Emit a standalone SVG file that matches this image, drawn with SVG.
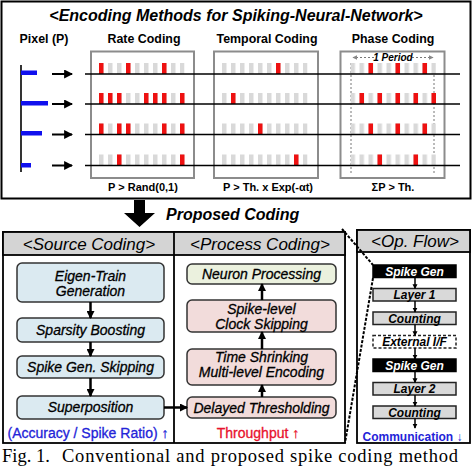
<svg xmlns="http://www.w3.org/2000/svg" width="474" height="468" viewBox="0 0 474 468">
<defs>
<style>
text{font-family:"Liberation Sans",Arial,sans-serif;fill:#000}
.t{font-weight:bold;font-style:italic;font-size:16px}
.h{font-weight:bold;font-size:12.4px;text-anchor:middle}
.f{font-weight:bold;font-size:11px;text-anchor:middle}
.sec{font-style:italic;font-size:17px;text-anchor:middle}
.bx{font-style:italic;font-size:14px;text-anchor:middle;stroke:#000;stroke-width:.3}
.ob{font-weight:bold;font-style:italic;font-size:12px;text-anchor:middle}
.lbl{font-size:14px;text-anchor:middle;stroke-width:.3}
.cbox{fill:none;stroke:#8c8c8c;stroke-width:2}
.row{stroke:#000;stroke-width:1.6}
.r{fill:#ee1111}
.px{fill:#1010ee}
.src{fill:#dbeaf1;stroke:#333;stroke-width:1.5}
.prc{fill:#f2dcdb;stroke:#333;stroke-width:1.5}
.neu{fill:#ebf1de;stroke:#333;stroke-width:1.5}
.op{fill:#d9d9d9;stroke:#222;stroke-width:1.5}
.opk{fill:#000;stroke:#000;stroke-width:1.5}
.opd{fill:#fff;stroke:#222;stroke-width:1.5;stroke-dasharray:3 2}
.a1{stroke:#000;stroke-width:2;fill:none;marker-end:url(#ah)}
.a2{stroke:#000;stroke-width:2.5;fill:none;marker-end:url(#ah2)}
.a3{stroke:#000;stroke-width:1.5;fill:none;marker-end:url(#ah3)}
.dsh{stroke:#000;stroke-width:2;stroke-dasharray:3 1.5;fill:none}
.gd{stroke:#777;stroke-width:1;stroke-dasharray:2 2;fill:none}
</style>
<pattern id="pr" x="99" y="0" width="9" height="468" patternUnits="userSpaceOnUse"><rect width="4.5" height="468" fill="#d9d9d9"/></pattern>
<pattern id="pt" x="222" y="0" width="9" height="468" patternUnits="userSpaceOnUse"><rect width="4.5" height="468" fill="#d9d9d9"/></pattern>
<pattern id="pp" x="350.5" y="0" width="9" height="468" patternUnits="userSpaceOnUse"><rect width="4.5" height="468" fill="#d9d9d9"/></pattern>
<marker id="ah" viewBox="0 0 8 8" refX="7" refY="4" markerWidth="9" markerHeight="9" markerUnits="userSpaceOnUse" orient="auto"><path d="M0,0 L8,4 L0,8 z" fill="#000"/></marker>
<marker id="ah2" viewBox="0 0 8 8" refX="7" refY="4" markerWidth="8" markerHeight="8" markerUnits="userSpaceOnUse" orient="auto"><path d="M0,0 L8,4 L0,8 z" fill="#000"/></marker>
<marker id="ah3" viewBox="0 0 8 8" refX="7" refY="4" markerWidth="5" markerHeight="6" markerUnits="userSpaceOnUse" orient="auto"><path d="M0,0 L8,4 L0,8 z" fill="#000"/></marker>
<marker id="ahg" viewBox="0 0 8 8" refX="7" refY="4" markerWidth="5" markerHeight="5" markerUnits="userSpaceOnUse" orient="auto"><path d="M0,0 L8,4 L0,8 z" fill="#888"/></marker>
</defs>

<rect width="474" height="468" fill="#fff"/>

<g id="encoding-panel">
<rect x="1.5" y="1.5" width="469" height="197" fill="#fff" stroke="#000" stroke-width="2"/>
<text class="t" x="236" y="21" text-anchor="middle">&lt;Encoding Methods for Spiking-Neural-Network&gt;</text>
<text class="h" x="44" y="43">Pixel (P)</text>
<text class="h" x="144" y="43">Rate Coding</text>
<text class="h" x="267" y="43">Temporal Coding</text>
<text class="h" x="393" y="43">Phase Coding</text>

<g id="pixels">
<line x1="21" y1="65" x2="21" y2="172" stroke="#000" stroke-width="1.6"/>
<rect class="px" x="21" y="70.5" width="16" height="4.5"/>
<rect class="px" x="21" y="101" width="27" height="4.5"/>
<rect class="px" x="21" y="131" width="21" height="4.5"/>
<rect class="px" x="21" y="163" width="10" height="4.5"/>
</g>

<g id="rate-coding">
<rect class="cbox" x="91" y="51.5" width="103" height="126.5"/>
<rect x="99" y="63" width="85.5" height="11" fill="url(#pr)"/>
<rect x="99" y="93" width="85.5" height="11" fill="url(#pr)"/>
<rect x="99" y="123.5" width="85.5" height="11" fill="url(#pr)"/>
<rect x="99" y="154.5" width="85.5" height="11" fill="url(#pr)"/>
<rect class="r" x="99" y="63" width="4.5" height="11"/>
<rect class="r" x="126" y="63" width="4.5" height="11"/>
<rect class="r" x="162" y="63" width="4.5" height="11"/>
<rect class="r" x="99" y="93" width="4.5" height="11"/>
<rect class="r" x="108" y="93" width="4.5" height="11"/>
<rect class="r" x="117" y="93" width="4.5" height="11"/>
<rect class="r" x="144" y="93" width="4.5" height="11"/>
<rect class="r" x="153" y="93" width="4.5" height="11"/>
<rect class="r" x="162" y="93" width="4.5" height="11"/>
<rect class="r" x="180" y="93" width="4.5" height="11"/>
<rect class="r" x="99" y="123.5" width="4.5" height="11"/>
<rect class="r" x="117" y="123.5" width="4.5" height="11"/>
<rect class="r" x="126" y="123.5" width="4.5" height="11"/>
<rect class="r" x="162" y="123.5" width="4.5" height="11"/>
<rect class="r" x="180" y="123.5" width="4.5" height="11"/>
<rect class="r" x="117" y="154.5" width="4.5" height="11"/>
<rect class="r" x="180" y="154.5" width="4.5" height="11"/>
<text class="f" x="143" y="191">P &gt; Rand(0,1)</text>
</g>

<g id="temporal-coding">
<rect class="cbox" x="214" y="51.5" width="104" height="126.5"/>
<rect x="222" y="63" width="85.5" height="11" fill="url(#pt)"/>
<rect x="222" y="93" width="85.5" height="11" fill="url(#pt)"/>
<rect x="222" y="123.5" width="85.5" height="11" fill="url(#pt)"/>
<rect x="222" y="154.5" width="85.5" height="11" fill="url(#pt)"/>
<rect class="r" x="276" y="63" width="4.5" height="11"/>
<rect class="r" x="231" y="93" width="4.5" height="11"/>
<rect class="r" x="258" y="123.5" width="4.5" height="11"/>
<rect class="r" x="294" y="154.5" width="4.5" height="11"/>
<text class="f" x="268" y="191">P &gt; Th. x Exp(-αt)</text>
</g>

<g id="phase-coding">
<rect class="cbox" x="340.5" y="51.5" width="104" height="126.5"/>
<line class="gd" x1="351" y1="63" x2="351" y2="175"/>
<line class="gd" x1="434" y1="63" x2="434" y2="175"/>
<line class="gd" x1="374" y1="57.5" x2="353" y2="57.5" marker-end="url(#ahg)"/>
<line class="gd" x1="412" y1="57.5" x2="433" y2="57.5" marker-end="url(#ahg)"/>
<text x="393" y="61" text-anchor="middle" style="font-weight:bold;font-style:italic;font-size:10px">1 Period</text>
<rect x="350.5" y="63" width="85.5" height="11" fill="url(#pp)"/>
<rect x="350.5" y="93" width="85.5" height="11" fill="url(#pp)"/>
<rect x="350.5" y="123.5" width="85.5" height="11" fill="url(#pp)"/>
<rect x="350.5" y="154.5" width="85.5" height="11" fill="url(#pp)"/>
<rect class="r" x="368.5" y="63" width="4.5" height="11"/>
<rect class="r" x="395.5" y="63" width="4.5" height="11"/>
<rect class="r" x="422.5" y="63" width="4.5" height="11"/>
<rect class="r" x="359.5" y="93" width="4.5" height="11"/>
<rect class="r" x="377.5" y="93" width="4.5" height="11"/>
<rect class="r" x="395.5" y="93" width="4.5" height="11"/>
<rect class="r" x="413.5" y="93" width="4.5" height="11"/>
<rect class="r" x="431.5" y="93" width="4.5" height="11"/>
<rect class="r" x="368.5" y="123.5" width="4.5" height="11"/>
<rect class="r" x="395.5" y="123.5" width="4.5" height="11"/>
<rect class="r" x="422.5" y="123.5" width="4.5" height="11"/>
<rect class="r" x="377.5" y="154.5" width="4.5" height="11"/>
<rect class="r" x="413.5" y="154.5" width="4.5" height="11"/>
<text class="f" x="393" y="191">ΣP &gt; Th.</text>
</g>

<g id="spike-lines">
<line class="row" x1="85" y1="74" x2="460" y2="74"/>
<line class="row" x1="85" y1="104" x2="460" y2="104"/>
<line class="row" x1="85" y1="134.5" x2="460" y2="134.5"/>
<line class="row" x1="85" y1="165.5" x2="460" y2="165.5"/>
</g>
</g>

<g id="proposed">
<polygon points="134,200 145,200 145,213 155,213 139.5,227 124,213 134,213" fill="#000"/>
<text class="t" x="166" y="220">Proposed Coding</text>
</g>

<g id="source-process-panel">
<rect x="3" y="232" width="342" height="211" fill="#fff" stroke="#000" stroke-width="1.8"/>
<rect x="3" y="232" width="342" height="23" fill="#d4d4d4" stroke="#000" stroke-width="1.8"/>
<line x1="174" y1="232" x2="174" y2="443" stroke="#000" stroke-width="1.8"/>
<text class="sec" x="89" y="250">&lt;Source Coding&gt;</text>
<text class="sec" x="260" y="250">&lt;Process Coding&gt;</text>
</g>

<g id="eigen-train"><rect class="src" x="17" y="263" width="147" height="39" rx="5"/><text class="bx" x="90.5" y="280.5">Eigen-Train</text><text class="bx" x="90.5" y="295.5">Generation</text></g>
<g id="sparsity"><rect class="src" x="17" y="318" width="147" height="24" rx="5"/><text class="bx" x="90.5" y="335">Sparsity Boosting</text></g>
<g id="spike-gen-skip"><rect class="src" x="17" y="356" width="147" height="22" rx="5"/><text class="bx" x="90.5" y="372">Spike Gen. Skipping</text></g>
<g id="superposition"><rect class="src" x="17" y="396" width="147" height="23" rx="5"/><text class="bx" x="90.5" y="412">Superposition</text></g>
<g id="accuracy-label"><text class="lbl" x="88" y="438" style="fill:#2323d8;stroke:#2323d8">(Accuracy / Spike Ratio) ↑</text></g>

<g id="neuron-processing"><rect class="neu" x="187" y="264" width="149" height="20" rx="5"/><text class="bx" x="261.5" y="279">Neuron Processing</text></g>
<g id="clock-skipping"><rect class="prc" x="187" y="300" width="149" height="32" rx="5"/><text class="bx" x="261.5" y="313.5">Spike-level</text><text class="bx" x="261.5" y="328.5">Clock Skipping</text></g>
<g id="time-shrinking"><rect class="prc" x="187" y="349" width="149" height="36" rx="5"/><text class="bx" x="261.5" y="361.5">Time Shrinking</text><text class="bx" x="261.5" y="377">Multi-level Encoding</text></g>
<g id="delayed-thresholding"><rect class="prc" x="187" y="397" width="149" height="21" rx="5"/><text class="bx" x="261.5" y="412.5">Delayed Thresholding</text></g>
<g id="throughput-label"><text class="lbl" x="258" y="438" style="fill:#e8112d;stroke:#e8112d">Throughput ↑</text></g>

<g id="op-flow">
<rect x="357" y="230" width="113" height="213" fill="#fff" stroke="#000" stroke-width="1.8"/>
<rect x="357" y="230" width="113" height="22" fill="#d4d4d4" stroke="#000" stroke-width="1.8"/>
<text class="sec" x="415" y="247">&lt;Op. Flow&gt;</text>
</g>
<g id="op-spike-gen-1"><rect class="opk" x="373" y="265" width="83" height="12.5"/><text class="ob" x="414.5" y="275.8" style="fill:#fff">Spike Gen</text></g>
<g id="op-layer-1"><rect class="op" x="373" y="288.5" width="83" height="12.5"/><text class="ob" x="414.5" y="299.3">Layer 1</text></g>
<g id="op-counting-1"><rect class="op" x="373" y="312" width="83" height="12.5"/><text class="ob" x="414.5" y="322.8">Counting</text></g>
<g id="op-external"><rect class="opd" x="373" y="335.5" width="83" height="12.5"/><text class="ob" x="414.5" y="346.3">External I/F</text></g>
<g id="op-spike-gen-2"><rect class="opk" x="373" y="359" width="83" height="12.5"/><text class="ob" x="414.5" y="369.8" style="fill:#fff">Spike Gen</text></g>
<g id="op-layer-2"><rect class="op" x="373" y="382.5" width="83" height="12.5"/><text class="ob" x="414.5" y="393.3">Layer 2</text></g>
<g id="op-counting-2"><rect class="op" x="373" y="406" width="83" height="12.5"/><text class="ob" x="414.5" y="416.8">Counting</text></g>
<g id="communication-label"><text x="412.5" y="441" text-anchor="middle" style="font-weight:bold;font-size:12px;fill:#2323d8">Communication ↓</text></g>

<g id="connectors">
<line class="a1" x1="52" y1="74" x2="72" y2="74"/>
<line class="a1" x1="52" y1="104" x2="72" y2="104"/>
<line class="a1" x1="52" y1="134.5" x2="72" y2="134.5"/>
<line class="a1" x1="52" y1="165.5" x2="72" y2="165.5"/>
<line class="a2" x1="90.5" y1="302" x2="90.5" y2="318"/>
<line class="a2" x1="90.5" y1="342" x2="90.5" y2="356"/>
<line class="a2" x1="90.5" y1="378" x2="90.5" y2="396"/>
<line class="a2" x1="164" y1="407.5" x2="187" y2="407.5"/>
<line class="a2" x1="262" y1="397" x2="262" y2="385"/>
<line class="a2" x1="262" y1="349" x2="262" y2="332"/>
<line class="a2" x1="262" y1="300" x2="262" y2="284"/>
<line class="a3" x1="415" y1="277.5" x2="415" y2="288.5"/>
<line class="a3" x1="415" y1="301" x2="415" y2="312"/>
<line class="a3" x1="415" y1="324.5" x2="415" y2="335.5"/>
<line class="a3" x1="415" y1="348" x2="415" y2="359"/>
<line class="a3" x1="415" y1="371.5" x2="415" y2="382.5"/>
<line class="a3" x1="415" y1="395" x2="415" y2="406"/>
<line class="a3" x1="415" y1="418.5" x2="415" y2="428"/>
<line class="dsh" x1="342" y1="229" x2="373" y2="265"/>
<line class="dsh" x1="373" y1="278" x2="345" y2="443"/>
</g>

<g id="caption">
<text x="2" y="462" style="font-family:'Liberation Serif','Times New Roman',serif;font-size:18.5px">Fig. 1.</text>
<text x="62" y="462" textLength="396" lengthAdjust="spacing" style="font-family:'Liberation Serif','Times New Roman',serif;font-size:18.5px">Conventional and proposed spike coding method</text>
</g>
</svg>
